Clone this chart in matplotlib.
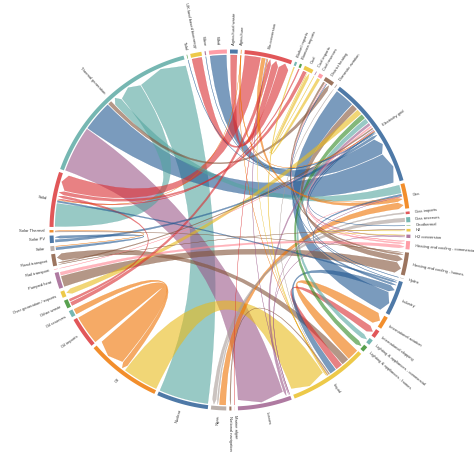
import numpy as np
import matplotlib
matplotlib.use("Agg")
import matplotlib.pyplot as plt
from matplotlib.colors import to_rgb
from matplotlib.path import Path
from matplotlib.patches import PathPatch

plt.rcParams['font.family'] = ['Liberation Sans', 'DejaVu Sans']

W, H = 474, 455
CX, CY = 230.0, 230.0
R_OUTER, R_INNER = 180.5, 176.5
R_RIBBON = 175.0
HEAD = 5.0
PAD = np.radians(1.0)
RIBBON_PAD = 0.6 / R_INNER
ALPHA = 0.6
TINT = 0.75

nodes = ["Agricultural waste", "Agriculture", "Bio-conversion", "Biofuel imports", "Biomass imports",
         "Coal", "Coal imports", "Coal reserves", "District heating", "Domestic aviation",
         "Electricity grid", "Gas", "Gas imports", "Gas reserves", "Geothermal", "H2", "H2 conversion",
         "Heating and cooling - commercial", "Heating and cooling - homes", "Hydro", "Industry",
         "International aviation", "International shipping", "Lighting & appliances - commercial",
         "Lighting & appliances - homes", "Liquid", "Losses", "Marine algae", "National navigation",
         "Ngas", "Nuclear", "Oil", "Oil imports", "Oil reserves", "Other waste",
         "Over generation / exports", "Pumped heat", "Rail transport", "Road transport", "Solar",
         "Solar PV", "Solar Thermal", "Solid", "Thermal generation", "Tidal",
         "UK land based bioenergy", "Wave", "Wind"]

palette = ["#4e79a7", "#f28e2c", "#e15759", "#76b7b2", "#59a14f",
           "#edc949", "#af7aa1", "#ff9da7", "#9c755f", "#bab0ab"]

flows = [
    ("Agricultural waste", "Bio-conversion", 124.7), ("Bio-conversion", "Liquid", 0.6),
    ("Bio-conversion", "Losses", 26.9), ("Bio-conversion", "Solid", 280.3),
    ("Bio-conversion", "Gas", 81.1), ("Biofuel imports", "Liquid", 35.0),
    ("Biomass imports", "Solid", 35.0), ("Coal imports", "Coal", 11.6),
    ("Coal reserves", "Coal", 64.0), ("Coal", "Solid", 75.6),
    ("District heating", "Industry", 10.6), ("District heating", "Heating and cooling - commercial", 22.5),
    ("District heating", "Heating and cooling - homes", 46.2),
    ("Electricity grid", "Over generation / exports", 104.5),
    ("Electricity grid", "Heating and cooling - homes", 113.7), ("Electricity grid", "H2 conversion", 27.1),
    ("Electricity grid", "Industry", 342.2), ("Electricity grid", "Road transport", 37.8),
    ("Electricity grid", "Agriculture", 4.4), ("Electricity grid", "Heating and cooling - commercial", 40.9),
    ("Electricity grid", "Losses", 56.7), ("Electricity grid", "Rail transport", 7.9),
    ("Electricity grid", "Lighting & appliances - commercial", 90.0),
    ("Electricity grid", "Lighting & appliances - homes", 93.5),
    ("Gas imports", "Ngas", 40.7), ("Gas reserves", "Ngas", 82.2),
    ("Gas", "Heating and cooling - commercial", 0.1), ("Gas", "Losses", 1.4),
    ("Gas", "Thermal generation", 151.9), ("Gas", "Agriculture", 2.1), ("Gas", "Industry", 48.6),
    ("Geothermal", "Electricity grid", 7.0), ("H2 conversion", "H2", 20.9), ("H2 conversion", "Losses", 6.2),
    ("H2", "Road transport", 20.9), ("Hydro", "Electricity grid", 7.0),
    ("Liquid", "Industry", 121.1), ("Liquid", "International shipping", 128.7),
    ("Liquid", "Road transport", 135.8), ("Liquid", "Domestic aviation", 14.5),
    ("Liquid", "International aviation", 206.3), ("Liquid", "Agriculture", 3.6),
    ("Liquid", "National navigation", 33.2), ("Marine algae", "Bio-conversion", 4.4),
    ("Ngas", "Gas", 123.0), ("Nuclear", "Thermal generation", 840.0),
    ("Oil imports", "Oil", 504.3), ("Oil reserves", "Oil", 107.7), ("Oil", "Liquid", 612.0),
    ("Other waste", "Solid", 56.6), ("Other waste", "Bio-conversion", 77.8),
    ("Pumped heat", "Heating and cooling - homes", 193.0),
    ("Pumped heat", "Heating and cooling - commercial", 70.7),
    ("Solar PV", "Electricity grid", 59.9), ("Solar Thermal", "Heating and cooling - homes", 19.3),
    ("Solar", "Solar Thermal", 19.3), ("Solar", "Solar PV", 59.9),
    ("Solid", "Agriculture", 0.9), ("Solid", "Thermal generation", 400.1), ("Solid", "Industry", 46.5),
    ("Thermal generation", "Electricity grid", 525.5), ("Thermal generation", "Losses", 787.1),
    ("Thermal generation", "District heating", 79.3), ("Tidal", "Electricity grid", 9.5),
    ("UK land based bioenergy", "Bio-conversion", 182.0), ("Wave", "Electricity grid", 19.0),
    ("Wind", "Electricity grid", 289.4),
]

n = len(nodes)
index = {name: i for i, name in enumerate(nodes)}
matrix = np.zeros((n, n))
for src, dst, val in flows:
    matrix[index[src], index[dst]] = val


def directed_chords(m, pad):
    """Directed chord layout: group arcs plus the angular slot of each flow."""
    sums = m.sum(axis=1) + m.sum(axis=0)
    k = (2 * np.pi - pad * n) / sums.sum()
    groups, source, target = [], {}, {}
    x = 0.0
    for i in range(n):
        x0 = x
        subs = [(m[i, j], "out", j) for j in range(n) if m[i, j] > 0]
        subs += [(-m[j, i], "in", j) for j in range(n) if m[j, i] > 0]
        subs.sort(key=lambda s: -s[0])
        for signed, kind, j in subs:
            x1 = x + abs(signed) * k
            if kind == "out":
                source[(i, j)] = (x, x1)
            else:
                target[(j, i)] = (x, x1)
            x = x1
        groups.append((x0, x))
        x += pad
    return groups, source, target


def ribbon_colour(hex_colour):
    # A darker fill at lower opacity keeps the tint on white and deepens overlaps.
    rgb = np.array(to_rgb(hex_colour))
    return tuple(np.clip(1 - (TINT / ALPHA) * (1 - rgb), 0, 1))


def polar(r, a):
    # Angle measured clockwise from twelve o'clock.
    return r * np.sin(a), r * np.cos(a)


def arc_points(r, a0, a1, steps=40):
    return [polar(r, a) for a in np.linspace(a0, a1, steps)]


def ring_path(r0, r1, a0, a1):
    pts = arc_points(r1, a0, a1) + arc_points(r0, a1, a0)
    return Path(pts + [pts[0]], closed=True)


def arrow_ribbon(s0, s1, t0, t1):
    """Ribbon that leaves the source arc and narrows to a point at the target."""
    sm, tm = (s0 + s1) / 2, (t0 + t1) / 2
    s_half = max((s1 - s0) / 2 - RIBBON_PAD, min(1e-3, (s1 - s0) / 2))
    t_half = max((t1 - t0) / 2 - RIBBON_PAD, min(1e-3, (t1 - t0) / 2))
    s0, s1 = sm - s_half, sm + s_half
    t0, t1 = tm - t_half, tm + t_half
    r_neck = R_RIBBON - HEAD
    verts, codes = [], []
    for i, p in enumerate(arc_points(R_RIBBON, s0, s1, 24)):
        verts.append(p)
        codes.append(Path.MOVETO if i == 0 else Path.LINETO)
    verts += [(0, 0), polar(r_neck, t0)]
    codes += [Path.CURVE3, Path.CURVE3]
    verts += [polar(R_RIBBON, tm), polar(r_neck, t1)]
    codes += [Path.LINETO, Path.LINETO]
    verts += [(0, 0), polar(R_RIBBON, s0)]
    codes += [Path.CURVE3, Path.CURVE3]
    return Path(verts, codes)


groups, source, target = directed_chords(matrix, PAD)

fig = plt.figure(figsize=(W / 100, H / 100), dpi=100)
ax = fig.add_axes([0, 0, 1, 1])
ax.set_xlim(-CX, W - CX)
ax.set_ylim(-(H - CY), CY)
ax.axis("off")

# Largest flows go down first so the thin ones stay visible on top.
for (i, j) in sorted(source, key=lambda key: -matrix[key]):
    s0, s1 = source[(i, j)]
    t0, t1 = target[(i, j)]
    ax.add_patch(PathPatch(arrow_ribbon(s0, s1, t0, t1), facecolor=ribbon_colour(palette[j % 10]),
                           edgecolor=ribbon_colour(palette[j % 10]), alpha=ALPHA, lw=0.2))

for i, (a0, a1) in enumerate(groups):
    ax.add_patch(PathPatch(ring_path(R_INNER, R_OUTER, a0, a1), facecolor=palette[i % 10],
                           edgecolor="none", lw=0))
    mid = (a0 + a1) / 2
    x, y = polar(R_OUTER + 5, mid)
    deg = np.degrees(mid)
    right = deg < 180
    ax.text(x, y, nodes[i], fontsize=3.0, color="#333333",
            rotation=90 - deg if right else 270 - deg, rotation_mode="anchor",
            ha="left" if right else "right", va="center")

fig.savefig("out.png", dpi=100, facecolor="white")
